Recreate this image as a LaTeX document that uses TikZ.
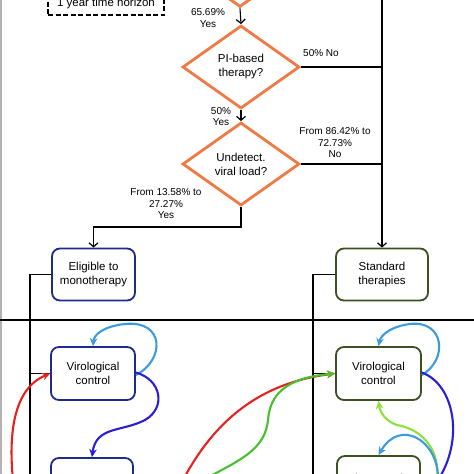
\documentclass[tikz,border=0pt]{standalone}
\usepackage{fontspec}
\setmainfont{Liberation Sans}
\usetikzlibrary{shapes.geometric,arrows.meta}
\definecolor{orng}{HTML}{F07A45}
\definecolor{navy}{HTML}{1E2A8C}
\definecolor{olive}{HTML}{3A5220}
\definecolor{lblue}{HTML}{3C9BE0}
\definecolor{dblue}{HTML}{2B1FD6}
\definecolor{rd}{HTML}{E82020}
\definecolor{grn}{HTML}{45C22B}
\definecolor{lgrn}{HTML}{8FE03A}
\begin{document}
\begin{tikzpicture}[x=1pt,y=-1pt,
  boxfont/.style={font=\fontsize{11.5}{14}\selectfont},
  lbl/.style={font=\fontsize{10}{11.5}\selectfont, align=center, inner sep=0pt},
  decision/.style={diamond, draw=orng, line width=2.8pt, aspect=1.41,
    minimum width=117pt, minimum height=83pt, inner sep=0pt, align=center, boxfont},
  monobox/.style={rectangle, rounded corners=8pt, draw=navy, line width=1.8pt,
    minimum width=83pt, minimum height=52pt, align=center, inner sep=2pt, boxfont},
  stdbox/.style={rectangle, rounded corners=8pt, draw=olive, line width=1.8pt,
    minimum width=85pt, minimum height=52pt, align=center, inner sep=2pt, boxfont},
  wire/.style={draw=black, line width=1.1pt},
  flow/.style={wire, -{Straight Barb[length=4pt,width=9pt,line width=1.2pt]}},
  curv/.style={line width=2.1pt, -{Stealth[length=8pt,width=7.5pt,inset=2.5pt]}}
]
\clip (0,0) rectangle (474,474);
\fill[white] (0,0) rectangle (474,474);
\fill[black!30] (0,0) rectangle (2,474);

% time horizon box
\node[draw, line width=2.4pt, dash pattern=on 5pt off 2.5pt, minimum width=116pt,
  minimum height=22pt, boxfont, inner sep=0pt] (horizon) at (106,4) {1 year time horizon};

% decisions
\node[decision] (top) at (240,-34.5) {};
\node[decision] (pi) at (241,67) {PI-based\\therapy?};
\node[decision] (ud) at (241,164) {Undetect.\\viral load?};

% boxes
\node[monobox] (mono) at (93.5,274.5) {Eligible to\\monotherapy};
\node[stdbox, minimum width=92pt] (std) at (382,274.5) {Standard\\therapies};
\node[monobox, minimum width=84pt, minimum height=53pt] (vcl) at (93,373.5) {Virological\\control};
\node[stdbox, minimum height=53pt] (vcr) at (378.5,373.5) {Virological\\control};
\node[monobox, minimum width=82pt, minimum height=53pt] (bl) at (92,484.5) {};
\node[stdbox, minimum width=83pt, minimum height=53pt] (br) at (378.5,482.5) {};
\node[boxfont, inner sep=0pt] (tftext) at (378.5,479.5) {Therapeutic};

% labels
\node[lbl] (l1) at (208,18) {65.69\%\\Yes};
\node[lbl] (l2) at (321,53) {50\% No};
\node[lbl] (l3) at (221,116.5) {50\%\\Yes};
\node[lbl] (l4) at (335,143) {From 86.42\% to\\72.73\%\\No};
\node[lbl] (l5) at (166,204) {From 13.58\% to\\27.27\%\\Yes};

% flow connectors
\coordinate (colTop) at (382,-10);
\coordinate (turn) at (0,227);
\coordinate (monoBot) at (30,480);
\coordinate (stdBot) at (313,480);
\draw[flow] (top.south) -- (pi.north);
\draw[flow] (pi.south) -- (ud.north);
\draw[flow] (colTop) -- (std.north);
\draw[wire] (pi.east) -- (pi.east -| std.north);
\draw[wire] (ud.east) -- (ud.east -| std.north);
\draw[flow] (ud.south) -- (ud.south |- turn) -| (mono.north);
\draw[wire] (mono.west) -| (monoBot);
\draw[wire] (std.west) -| (stdBot);
\draw[wire] (monoBot |- vcl.west) -- (vcl.west);
\draw[wire] (stdBot |- vcr.west) -- (vcr.west);

% separator
\coordinate (hl) at (0,320);
\coordinate (hr) at (474,320);
\draw[line width=2.4pt] (hl) -- (hr);

% transition curves
\coordinate (rs1) at (13,480);
\coordinate (rs2) at (183,480);
\coordinate (gs) at (203,480);
\coordinate (dbe) at (438,480);
\coordinate (lgs) at (437,480);
\coordinate (lbs) at (438,478);

\draw[curv, lblue] ([yshift=-1.5pt]vcl.east) .. controls (165,360) and (165,320) .. (125,324)
  .. controls (105,326) and (94,334) .. (vcl.north);
\draw[curv, dblue] ([yshift=1pt]vcl.east) .. controls (162,380) and (166,408) .. (145,420)
  .. controls (122,432) and (96,426) .. (bl.north);
\draw[curv, rd] (rs1) .. controls (8,430) and (15,388) .. (vcl.west);
\draw[curv, rd] (rs2) .. controls (215,420) and (260,383) .. (vcr.west);
\draw[curv, grn] (gs) .. controls (240,460) and (265,450) .. (268,420)
  .. controls (270,395) and (285,378) .. (vcr.west);
\draw[curv, lblue] ([yshift=-1.5pt]vcr.east) .. controls (448,360) and (445,320) .. (410,324)
  .. controls (393,326) and (381,334) .. (vcr.north);
\draw[line width=2.1pt, dblue] ([yshift=1pt]vcr.east) .. controls (455,385) and (464,440) .. (dbe);
\draw[curv, lgrn] (lgs) .. controls (440,452) and (425,430) .. (397,425)
  .. controls (385,421) and (380,412) .. (vcr.south);
\draw[curv, lblue] (lbs) .. controls (438,440) and (400,418) .. (br.north);
\end{tikzpicture}
\end{document}
